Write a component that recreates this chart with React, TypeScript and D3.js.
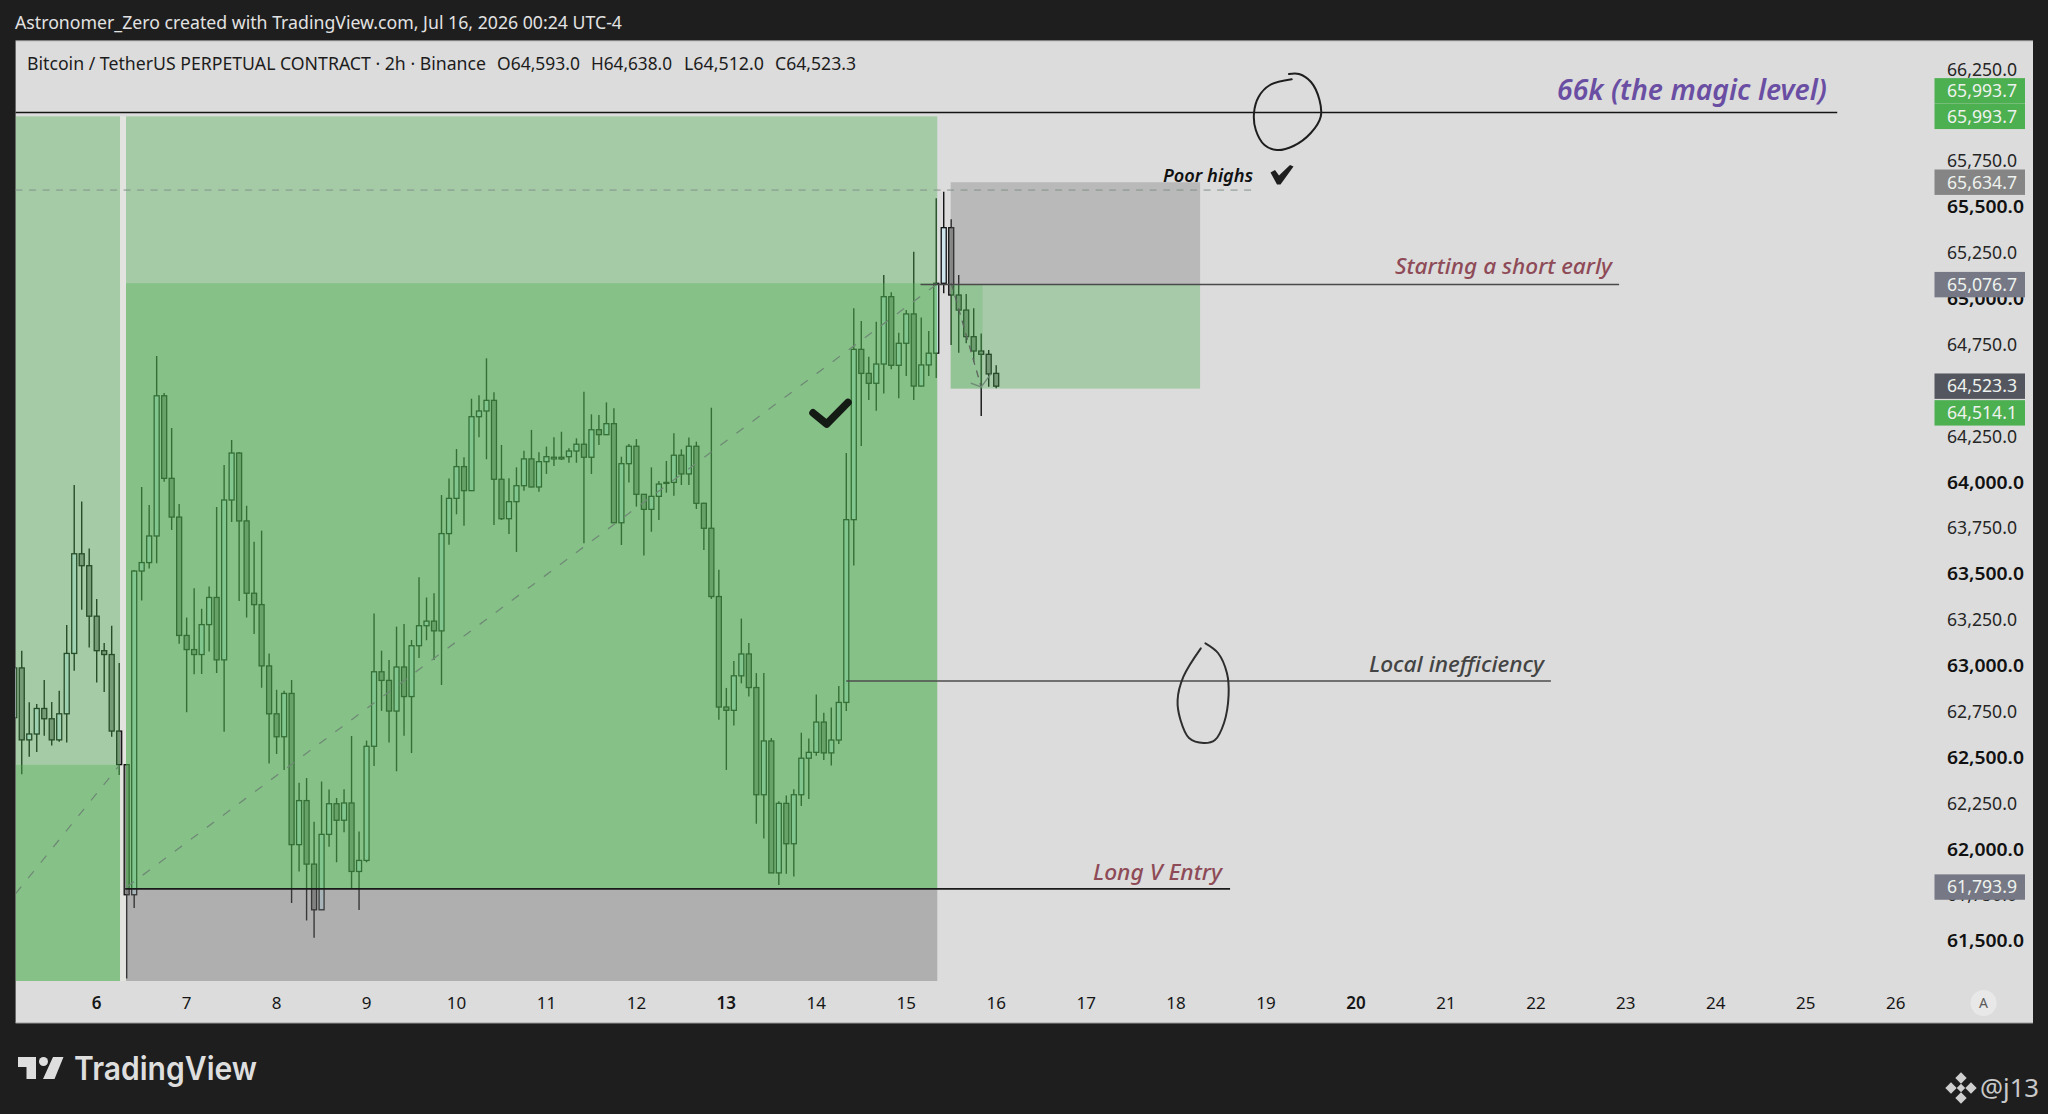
import React from 'react';
import * as d3 from 'd3';

// Data (2h bars, bar 0 = Jul 6 00:00, first visible bar is -11)

const firstBar = -11;

const opens = [
    62717, 62988, 62596, 62628, 62767, 62711, 62596, 62738, 63067, 63610, 63545,
    63270, 63082, 63061, 62644, 62461, 61752, 63516, 63562, 63707, 64471, 64021, 63810,
    63165, 63088, 63061, 63224, 63372, 63032, 63903, 64159, 63789, 63395, 63333, 62999,
    62738, 62613, 62849, 62025, 62265, 61919, 61670, 62081, 62248, 62158, 62252, 61879,
    61939, 62561, 62967, 62920, 62753, 62993, 62832, 63109, 63218, 63243, 63190, 63720,
    63912, 64085, 63954, 64357, 64388, 64446, 64016, 63801, 63894, 63981, 64127, 63974,
    64112, 64127, 64136, 64139, 64170, 64207, 64136, 64286, 64259, 64319, 63779, 64101,
    64196, 63934, 63852, 63923, 63994, 63999, 64147, 64045, 64196, 63885, 63749, 63377,
    62775, 62757, 62945, 63064, 62881, 62297, 62590, 61871, 62250, 62030, 62297, 62496,
    62528, 62693, 62525, 62595, 62800, 63796, 64724, 64593, 64539, 64644, 65011, 64637,
    64757, 64917, 64524, 64639, 64703, 65084, 65387, 65020, 64938, 64793, 64715, 64697,
    64593,
];
const highs = [
    63058, 63082, 62801, 62791, 62922, 62802, 62863, 63222, 63985, 63895, 63639,
    63364, 63124, 63218, 63015, 62465, 63522, 63974, 63876, 64688, 64486, 64295, 63881,
    63263, 63422, 63311, 63432, 63865, 64094, 64230, 64165, 63872, 63676, 63736, 63067,
    62869, 62863, 62922, 62363, 62388, 62150, 62369, 62325, 62279, 62327, 62617, 62096,
    62592, 63285, 63082, 63031, 63213, 63228, 63140, 63482, 63372, 63395, 63930, 64020,
    64181, 64136, 64455, 64474, 64675, 64490, 64203, 64021, 64081, 64172, 64285, 64163,
    64194, 64245, 64275, 64185, 64239, 64493, 64370, 64366, 64435, 64403, 64139, 64208,
    64235, 63934, 64081, 64007, 64116, 64267, 64179, 64243, 64221, 63888, 64406, 63523,
    62879, 63026, 63257, 63124, 62960, 62960, 62606, 62261, 62293, 62327, 62635, 62603,
    62843, 62744, 62772, 62890, 64159, 64948, 64878, 64684, 64875, 65129, 65035, 64815,
    64938, 65256, 64898, 64824, 65547, 65583, 65433, 65129, 65026, 64948, 64811, 64720,
    64638,
];
const lows = [
    62650, 62408, 62504, 62530, 62619, 62565, 62586, 62582, 62973, 63305, 63099,
    62909, 62857, 62613, 62405, 61295, 61680, 63355, 63530, 63558, 64003, 63740, 63120,
    62746, 62953, 62955, 63078, 62961, 62640, 63783, 63353, 63263, 63173, 62880, 62467,
    62519, 62432, 61707, 61879, 61612, 61518, 61670, 62014, 61929, 62092, 61789, 61669,
    61929, 62453, 62754, 62582, 62425, 62619, 62524, 63042, 63139, 63031, 62895, 63659,
    63825, 63763, 63952, 64245, 64125, 63767, 63794, 63718, 63620, 63954, 63972, 63948,
    64045, 64088, 64121, 64106, 64106, 63667, 64045, 64203, 64257, 63779, 63658, 63999,
    63867, 63600, 63730, 63794, 63943, 63926, 63985, 63985, 63854, 63631, 63364, 62706,
    62432, 62674, 62904, 62832, 62139, 62058, 61871, 61805, 61866, 61851, 62236, 62274,
    62509, 62486, 62456, 62573, 62753, 63546, 64197, 64448, 64390, 64484, 64615, 64457,
    64579, 64448, 64521, 64579, 64568, 65029, 64748, 64706, 64757, 64657, 64361, 64520,
    64512,
];
const closes = [
    62988, 62596, 62628, 62767, 62711, 62596, 62738, 63067, 63610, 63545, 63270,
    63082, 63061, 62644, 62461, 61752, 63516, 63562, 63707, 64471, 64021, 63810, 63165,
    63088, 63061, 63224, 63372, 63032, 63903, 64159, 63789, 63395, 63333, 62999, 62738,
    62613, 62849, 62025, 62265, 61919, 61670, 62081, 62248, 62158, 62252, 61879, 61939,
    62561, 62967, 62920, 62753, 62993, 62832, 63109, 63218, 63243, 63190, 63720, 63912,
    64085, 63954, 64357, 64388, 64446, 64016, 63801, 63894, 63981, 64127, 63974, 64112,
    64139, 64136, 64127, 64170, 64207, 64136, 64286, 64259, 64319, 63779, 64101, 64196,
    63934, 63852, 63923, 63990, 63999, 64147, 64045, 64196, 63885, 63749, 63377, 62775,
    62757, 62945, 63064, 62881, 62297, 62590, 61871, 62250, 62030, 62297, 62496, 62528,
    62693, 62525, 62595, 62800, 63796, 64724, 64593, 64539, 64644, 65011, 64637, 64757,
    64917, 64524, 64639, 64703, 65084, 65387, 65020, 64938, 64793, 64715, 64697, 64590,
    64523.3,
];

const dayTicks = [6, 7, 8, 9, 10, 11, 12, 13, 14, 15, 16, 17, 18, 19, 20, 21, 22, 23, 24, 25, 26];
const boldDays = [6, 13, 20];
const priceTicks = [66250, 65750, 65500, 65250, 65000, 64750, 64250, 64000, 63750, 63500, 63250, 63000, 62750, 62500, 62250, 62000, 61750, 61500];
const boldPrices = [65500, 65000, 64000, 63500, 63000, 62500, 62000, 61500];

// value, pixel offset from the real level so stacked labels don't overlap, fill
const priceBadges: [number, number, string][] = [
    [65993.7, -25.5, '#4caf50'],
    [65993.7, 0, '#4caf50'],
    [65634.7, 0, '#858585'],
    [65076.7, 0, '#767985'],
    [64523.3, 0, '#54565f'],
    [64514.1, 25, '#4caf50'],
    [61793.9, 0, '#767985'],
];

const upperLevel = 65993.7;
const rangeHigh = 65085;
const rangeLow = 61784;
const leftMid = 62461;
const poorHigh = 65592;
const shortLevel = 65076.7;
const shortTarget = 64514.1;
const localLevel = 62917;
const magicLine = 66014;

// Layout

const W = 2048;
const H = 1114;
const panel = { left: 15.6, top: 40.7, right: 2033, bottom: 1023 };
const plotBottom = 981;

const x = d3.scaleLinear().domain([0, 240]).range([96.7, 1895.7]);
const y = d3.scaleLinear().domain([61500, 66250]).range([941, 69.3]);
const dayX = (d: number) => x((d - 6) * 12);

const fmt = d3.format(',.1f');
const sans = '"Noto Sans", sans-serif';

const green = '#4caf50';
const shade = '#6f6f6f';
const wine = '#8e4b57';

const handLine = d3.line().curve(d3.curveCatmullRom.alpha(0.5));

const circleTop: [number, number][] = [
    [1289, 74], [1299, 74], [1311, 82], [1319.5, 100], [1320.7, 116.7], [1310.8, 133], [1293.4, 146],
    [1277, 150], [1264.5, 145], [1255.8, 130], [1254, 113], [1258.7, 96.7], [1270, 85], [1291.7, 79.3],
];
const circleLow: [number, number][] = [
    [1205.4, 643.3], [1218, 653], [1226.9, 673], [1228.6, 695], [1224, 723], [1215, 740], [1203.7, 743],
    [1189, 738], [1180.5, 720], [1177.6, 700], [1183.4, 676.7], [1200.8, 648.3],
];

function Band({ from, to, top, bottom, fill, opacity }: { from: number; to: number; top: number; bottom: number; fill: string; opacity: number }) {
    return <rect x={from} y={top} width={to - from} height={bottom - top} fill={fill} fillOpacity={opacity} />;
}

function Label({ text, left, right, cy, fill, size, weight = 400, italic = false }: { text: string; left: number; right: number; cy: number; fill: string; size: number; weight?: number; italic?: boolean }) {
    return (
        <text x={left} y={cy} dy="0.35em" fill={fill} fontSize={size} fontWeight={weight} fontStyle={italic ? 'italic' : 'normal'}
            textLength={right - left} lengthAdjust="spacingAndGlyphs" fontFamily={sans}>
            {text}
        </text>
    );
}

function Candles() {
    return (
        <g>
            {opens.map((o, i) => {
                const bar = firstBar + i;
                const up = closes[i] >= o;
                const top = y(Math.max(o, closes[i]));
                const bot = y(Math.min(o, closes[i]));
                return (
                    <g key={bar}>
                        <line x1={x(bar)} x2={x(bar)} y1={y(highs[i])} y2={y(lows[i])} stroke="#111" strokeWidth={1.4} />
                        <rect x={x(bar) - 2.5} y={top} width={5} height={Math.max(bot - top, 1)}
                            fill={up ? '#cfe6ee' : '#8f8f8f'} stroke="#111" strokeWidth={1.3} />
                    </g>
                );
            })}
        </g>
    );
}

function App() {
    const L = panel.left;
    const stripL = x(3.11);
    const mainL = x(3.91);
    const mainR = x(112.14);
    const boxL = x(113.93);
    const boxR = x(147.2);

    const dashA = d3.line()([[L, y(61758)], [x(3), y(62456)]]) as string;
    const dashB = d3.line()([[x(4), y(61793.9)], [x(112), y(65076.7)]]) as string;
    const dashC = d3.line()([[x(114), y(65085)], [x(118), y(64519)]]) as string;
    const arrow = d3.line()([[x(116.6), y(64540)], [x(118), y(64519)], [x(119.3), y(64590)]]) as string;

    return (
        <svg width={W} height={H} viewBox={`0 0 ${W} ${H}`} style={{ position: 'fixed', left: 0, top: 0, background: '#1e1e1e' }}>
            <defs>
                <clipPath id="plot">
                    <rect x={L} y={panel.top} width={1934 - L} height={plotBottom - panel.top} />
                </clipPath>
            </defs>

            <Label text="Astronomer_Zero created with TradingView.com, Jul 16, 2026 00:24 UTC-4" left={15} right={622} cy={23} fill="#e2e2e2" size={18} />

            <rect x={L} y={panel.top} width={panel.right - L} height={panel.bottom - panel.top} fill="#dcdcdc" />
            <line x1={L} x2={panel.right} y1={panel.top} y2={panel.top} stroke="#8a8a8a" />
            <line x1={L} x2={panel.right} y1={panel.bottom} y2={panel.bottom} stroke="#9a9a9a" />

            <Label text="Bitcoin / TetherUS PERPETUAL CONTRACT · 2h · Binance" left={27} right={486} cy={64} fill="#1c1c1c" size={18} />
            <Label text="O64,593.0" left={497} right={580} cy={64} fill="#1c1c1c" size={18} />
            <Label text="H64,638.0" left={591} right={672} cy={64} fill="#1c1c1c" size={18} />
            <Label text="L64,512.0" left={684} right={764} cy={64} fill="#1c1c1c" size={18} />
            <Label text="C64,523.3" left={775} right={856} cy={64} fill="#1c1c1c" size={18} />

            <g clipPath="url(#plot)">
                <rect x={stripL} y={y(upperLevel)} width={mainL - stripL} height={plotBottom - y(upperLevel)} fill="#e3e3e0" />

                <Candles />

                {/* zones sit over the candles, the bars show through */}
                <Band from={L} to={stripL} top={y(upperLevel)} bottom={y(leftMid)} fill={green} opacity={0.38} />
                <Band from={L} to={stripL} top={y(leftMid)} bottom={plotBottom} fill={green} opacity={0.6} />
                <Band from={mainL} to={mainR} top={y(upperLevel)} bottom={y(rangeHigh)} fill={green} opacity={0.38} />
                <Band from={mainL} to={mainR} top={y(rangeHigh)} bottom={y(rangeLow)} fill={green} opacity={0.6} />
                <Band from={mainL} to={mainR} top={y(rangeLow)} bottom={plotBottom} fill={shade} opacity={0.42} />
                <Band from={boxL} to={boxR} top={y(65634.7)} bottom={y(shortLevel)} fill={shade} opacity={0.32} />
                <Band from={boxL} to={boxR} top={y(shortLevel)} bottom={y(shortTarget - 4)} fill={green} opacity={0.36} />
                <Band from={boxL} to={x(118.2)} top={y(shortLevel)} bottom={y(shortTarget - 4)} fill={green} opacity={0.22} />
            </g>

            <g fill="none" stroke="#6f8a75" strokeWidth={1.3} strokeDasharray="9 11" clipPath="url(#plot)">
                <path d={dashA} />
                <path d={dashB} />
                <path d={dashC} stroke="#5d665f" strokeDasharray="7 6" />
            </g>
            <path d={arrow} fill="none" stroke="#6f8a75" strokeWidth={1.3} />
            <line x1={L} x2={x(154.3)} y1={y(poorHigh)} y2={y(poorHigh)} stroke="#84938a" strokeWidth={1} strokeDasharray="7 6.5" />

            <line x1={L} x2={x(232.2)} y1={y(magicLine)} y2={y(magicLine)} stroke="#141414" strokeWidth={1.5} />
            <line x1={x(109.9)} x2={x(203.1)} y1={y(shortLevel)} y2={y(shortLevel)} stroke="#4a4a4a" strokeWidth={1.5} />
            <line x1={x(100)} x2={x(194)} y1={y(localLevel)} y2={y(localLevel)} stroke="#4c4c4c" strokeWidth={1.5} />
            <line x1={x(3.8)} x2={x(151.2)} y1={y(rangeLow)} y2={y(rangeLow)} stroke="#1a1a1a" strokeWidth={1.7} />

            <path d={handLine(circleTop) as string} fill="none" stroke="#1e1e1e" strokeWidth={2} strokeLinecap="round" />
            <path d={handLine(circleLow) as string} fill="none" stroke="#2e2e2e" strokeWidth={2} strokeLinecap="round" />
            <path d="M813 412.8L826.7 424L848 402.4" fill="none" stroke="#141a14" strokeWidth={7.5} strokeLinejoin="round" strokeLinecap="round" />
            <path d="M1270.5 172.5L1275 170L1279 175.5L1290 165L1293.5 166.5L1280.5 184.5L1277 184.5Z" fill="#1e1e1e" />

            <Label text="66k (the magic level)" left={1557} right={1827} cy={90} fill="#6a4ea3" size={28} weight={600} italic />
            <Label text="Poor highs" left={1163} right={1253} cy={176} fill="#111" size={18} weight={600} italic />
            <Label text="Starting a short early" left={1395} right={1612} cy={266} fill={wine} size={22} weight={500} italic />
            <Label text="Local inefficiency" left={1369} right={1544} cy={664} fill="#444" size={22} weight={500} italic />
            <Label text="Long V Entry" left={1093} right={1222} cy={872} fill={wine} size={22} weight={500} italic />

            {/* price axis */}
            {priceTicks.map((p) => {
                const bold = boldPrices.includes(p);
                return (
                    <Label key={p} text={fmt(p)} left={1947} right={bold ? 2024 : 2017} cy={y(p)} fill={bold ? '#111' : '#262626'} size={18} weight={bold ? 600 : 400} />
                );
            })}
            {priceBadges.map(([p, dy, fill], i) => (
                <g key={i}>
                    <rect x={1934.5} y={y(p) + dy - 12.7} width={90.5} height={25.4} fill={fill} />
                    <Label text={fmt(p)} left={1947} right={2017} cy={y(p) + dy} fill="#eef2ee" size={18} />
                </g>
            ))}

            {/* time axis */}
            {dayTicks.map((d) => (
                <text key={d} x={dayX(d)} y={1003} dy="0.35em" textAnchor="middle" fontFamily={sans} fontSize={17}
                    fontWeight={boldDays.includes(d) ? 600 : 400} fill="#161616">{d}</text>
            ))}
            <circle cx={1983.6} cy={1003} r={13} fill="#e8e8e8" />
            <text x={1983.6} y={1003} dy="0.35em" textAnchor="middle" fontFamily={sans} fontSize={14} fill="#5a5a5a">A</text>

            {/* footer */}
            <g fill="#dedede">
                <path d="M18 1057h18v22h-9.5v-12h-8.5z" />
                <circle cx={43.5} cy={1061.5} r={4.5} />
                <path d="M53 1057h10.5l-9 22h-11.5z" />
            </g>
            <text x={74} y={1068} dy="0.36em" fill="#dedede" fontFamily="Inter, sans-serif" fontSize={32} fontWeight={600} textLength={183} lengthAdjust="spacingAndGlyphs">TradingView</text>
            <g fill="#cfcfcf" transform="translate(1961 1088)">
                {[[0, -10], [-10, 0], [10, 0], [0, 10]].map(([dx, dy], i) => (
                    <rect key={i} x={dx - 4} y={dy - 4} width={8} height={8} transform={`rotate(45 ${dx} ${dy})`} />
                ))}
                <rect x={-3} y={-3} width={6} height={6} transform="rotate(45)" />
            </g>
            <text x={1980} y={1088} dy="0.35em" fill="#c9c9c9" fontFamily={sans} fontSize={26} textLength={59} lengthAdjust="spacingAndGlyphs">@j13</text>
        </svg>
    );
}

export default App;
